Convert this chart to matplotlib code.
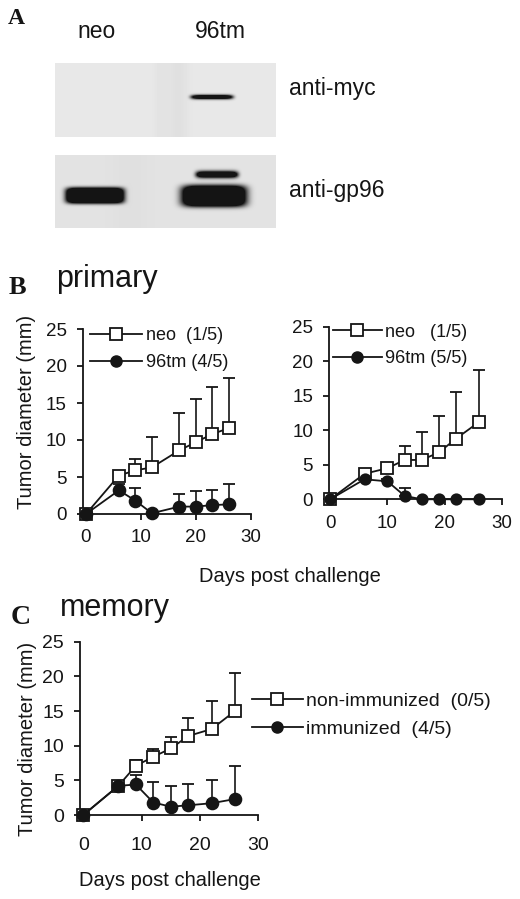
import matplotlib
matplotlib.use("Agg")
import matplotlib.pyplot as plt
from matplotlib.lines import Line2D
import numpy as np

plt.rcParams['font.family'] = ['Liberation Sans', 'DejaVu Sans']

# ---------------- data ----------------
# Panel B (left): primary challenge
b1_days = [0, 6, 9, 12, 17, 20, 23, 26]
b1_neo = [0, 5.2, 5.9, 6.3, 8.6, 9.7, 10.8, 11.6]
b1_neo_sd = [0, 0.5, 1.6, 4.1, 5.1, 5.8, 6.4, 6.8]
b1_tm = [0, 3.2, 1.8, 0.1, 1.0, 1.0, 1.2, 1.3]
b1_tm_sd = [0, 0.9, 1.7, 0, 1.7, 2.1, 2.1, 2.8]
b1_labels = ["neo  (1/5)", "96tm (4/5)"]

# Panel B (right): primary challenge
b2_days = [0, 6, 10, 13, 16, 19, 22, 26]
b2_neo = [0, 3.7, 4.5, 5.7, 5.7, 6.8, 8.8, 11.2]
b2_neo_sd = [0, 0.5, 0.8, 2.0, 4.0, 5.2, 6.7, 7.5]
b2_tm = [0, 2.9, 2.6, 0.5, 0, 0, 0, 0]
b2_tm_sd = [0, 0.4, 0.3, 1.2, 0, 0, 0, 0]
b2_labels = ["neo   (1/5)", "96tm (5/5)"]

# Panel C: memory
c_days = [0, 6, 9, 12, 15, 18, 22, 26]
c_non = [0, 4.2, 7.1, 8.4, 9.6, 11.4, 12.4, 15.0]
c_non_sd = [0, 0.3, 0.8, 1.1, 1.7, 2.6, 4.0, 5.5]
c_imm = [0, 4.2, 4.4, 1.8, 1.2, 1.4, 1.7, 2.3]
c_imm_sd = [0, 0.3, 1.4, 2.9, 3.0, 3.0, 3.3, 4.8]
c_labels = ["non-immunized  (0/5)", "immunized  (4/5)"]

# Panel A: blot lanes and probes
lanes = ["neo", "96tm"]
probes = ["anti-myc", "anti-gp96"]

xticks = [0, 10, 20, 30]
yticks = [0, 5, 10, 15, 20, 25]

W, H = 520, 899
INK = '#151515'

fig = plt.figure(figsize=(W / 100, H / 100), dpi=100)
fig.patch.set_facecolor('white')

# canvas axes in pixel coordinates for panel A and free text
cax = fig.add_axes([0, 0, 1, 1])
cax.set_xlim(0, W)
cax.set_ylim(H, 0)
cax.axis('off')


def rect(l, r, t, b):
    return [l / W, 1 - b / H, (r - l) / W, (b - t) / H]


# ---------------- panel A: western blot (rendered illustration) ----------------
def blot(l, r, t, b, bg, bands, smudges):
    xs = np.arange(l, r) + 0.5
    ys = np.arange(t, b) + 0.5
    X, Y = np.meshgrid(xs, ys)
    img = np.full(X.shape, bg)
    for cx, wx, k in smudges:
        img -= k * np.exp(-((X - cx) / wx) ** 2)
    dens = np.zeros(X.shape)
    for cx, cy, hw, hh, px, py, a in bands:
        dens += a * np.exp(-np.abs((X - cx) / hw) ** px - np.abs((Y - cy) / hh) ** py)
    dens = np.clip(dens, 0, 1)
    img = img - (img - 0.08) * dens
    cax.imshow(img, cmap='gray', vmin=0, vmax=1, extent=(l, r, b, t),
               origin='upper', interpolation='bilinear', aspect='auto', zorder=1)


blot(55, 276, 63, 137, 0.91,
     [(212, 97, 21, 2.2, 8, 2, 1.6)],
     [(178, 10, 0.035), (160, 6, 0.02)])
blot(55, 276, 155, 228, 0.89,
     [(95, 195.5, 29, 7.8, 8, 4, 2.2),
      (214, 196, 32, 10.5, 6, 4, 2.2),
      (217, 174.5, 21, 3.4, 8, 2, 1.8)],
     [(130, 20, 0.015)])

cax.text(97, 32, lanes[0], fontsize=16.5, color=INK, ha='center', va='center')
cax.text(220, 32, lanes[1], fontsize=16.5, color=INK, ha='center', va='center')
cax.text(289, 88, probes[0], fontsize=16.5, color=INK, ha='left', va='center')
cax.text(289, 191, probes[1], fontsize=16.5, color=INK, ha='left', va='center')

serif = ['Liberation Serif', 'DejaVu Serif']
cax.text(8, 18, "A", fontsize=17, fontweight='bold', family=serif, color=INK, ha='left', va='center')
cax.text(9, 288, "B", fontsize=19, fontweight='bold', family=serif, color=INK, ha='left', va='center')
cax.text(11, 617, "C", fontsize=20, fontweight='bold', family=serif, color=INK, ha='left', va='center')
cax.text(56, 279, "primary", fontsize=22, color=INK, ha='left', va='center')
cax.text(60, 608, "memory", fontsize=22, color=INK, ha='left', va='center')

cax.text(27, 412, "Tumor diameter (mm)", fontsize=14.5, color=INK, rotation=90, ha='center', va='center')
cax.text(290, 577, "Days post challenge", fontsize=14.5, color=INK, ha='center', va='center')
cax.text(28, 739, "Tumor diameter (mm)", fontsize=14.5, color=INK, rotation=90, ha='center', va='center')
cax.text(170, 880, "Days post challenge", fontsize=14.5, color=INK, ha='center', va='center')


# ---------------- line panels ----------------
def style_axes(ax, xmin, xpad, ypad, fs):
    ax.set_xlim(xmin, 30)
    ax.set_ylim(0, 25)
    ax.set_xticks(xticks)
    ax.set_yticks(yticks)
    ax.patch.set_alpha(0)
    for s in ['top', 'right']:
        ax.spines[s].set_visible(False)
    for s in ['left', 'bottom']:
        ax.spines[s].set_linewidth(1.3)
        ax.spines[s].set_color(INK)
    ax.tick_params(axis='both', direction='out', length=4.5, width=1.3, color=INK,
                   labelsize=fs, labelcolor=INK)
    ax.tick_params(axis='x', pad=xpad)
    ax.tick_params(axis='y', pad=ypad)


def draw_series(ax, days, vals, sd, marker, face, ms):
    lower = np.zeros(len(sd))
    ax.errorbar(days, vals, yerr=[lower, sd], color=INK, lw=1.3, elinewidth=1.2,
                capsize=4.5, capthick=1.3, marker=marker, markersize=ms,
                markerfacecolor=face, markeredgecolor=INK, markeredgewidth=1.3,
                clip_on=False, zorder=3)


def add_legend(ax, labels, x_px, y_mid_px, fs, hl):
    handles = [
        Line2D([], [], color=INK, lw=1.3, marker='s', markersize=8,
               markerfacecolor='white', markeredgecolor=INK, markeredgewidth=1.3),
        Line2D([], [], color=INK, lw=1.3, marker='o', markersize=8,
               markerfacecolor=INK, markeredgecolor=INK),
    ]
    leg = ax.legend(handles, labels, loc='center left',
                    bbox_to_anchor=(x_px / W, 1 - y_mid_px / H),
                    bbox_transform=fig.transFigure, frameon=False, fontsize=fs,
                    handlelength=hl, handletextpad=0.2, borderpad=0, borderaxespad=0,
                    labelspacing=0.55, numpoints=1)
    for t in leg.get_texts():
        t.set_color(INK)


# B left
ax1 = fig.add_axes(rect(82.7, 250.7, 329, 514))
style_axes(ax1, -0.6, 6.5, 7, 13.5)
draw_series(ax1, b1_days, b1_neo, b1_neo_sd, 's', 'white', 8.5)
draw_series(ax1, b1_days, b1_tm, b1_tm_sd, 'o', INK, 8.5)
add_legend(ax1, b1_labels, 90, 349, 13, 2.9)

# B right
ax2 = fig.add_axes(rect(329, 502, 326.7, 499.3))
style_axes(ax2, -0.2, 6.5, 7, 13.5)
draw_series(ax2, b2_days, b2_neo, b2_neo_sd, 's', 'white', 8)
draw_series(ax2, b2_days, b2_tm, b2_tm_sd, 'o', INK, 7.5)
add_legend(ax2, b2_labels, 333, 345.5, 13, 2.7)

# C
ax3 = fig.add_axes(rect(80, 258.3, 641.7, 815))
style_axes(ax3, -0.57, 11, 7, 14)
draw_series(ax3, c_days, c_non, c_non_sd, 's', 'white', 8.5)
draw_series(ax3, c_days, c_imm, c_imm_sd, 'o', INK, 8.5)
add_legend(ax3, c_labels, 252, 715, 14, 2.6)

fig.savefig("out.png", dpi=100, facecolor='white')
